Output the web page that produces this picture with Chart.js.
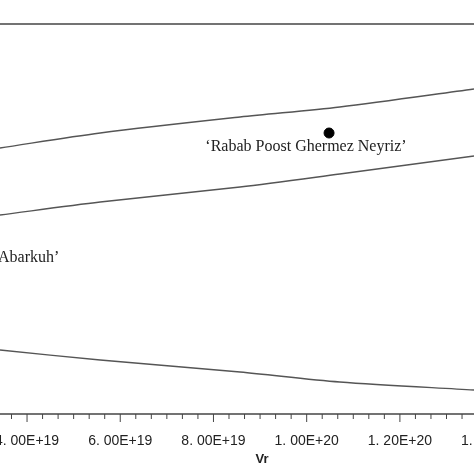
<!DOCTYPE html>
<html><head><meta charset="utf-8">
<script src="https://cdn.jsdelivr.net/npm/chart.js@4"></script>
<style>html,body{margin:0;padding:0;background:#fff}#w{width:474px;height:474px}</style>
</head><body><div id="w"><canvas id="c"></canvas></div>
<script>
const xVals = [3.42e19, 5.57e19, 8.57e19, 10.71e19, 13.59e19];
const upperCurve = [266, 281, 297, 307, 325];
const lowerCurve = [199, 212, 227, 240, 258];
const bottomCurve = [64, 54, 42, 32, 24];
const pointX = [10.48e19];
const pointY = [281];
const tickValues = [4e19, 6e19, 8e19, 1e20, 1.2e20, 1.4e20];
const tickLabels = ['4. 00E+19', '6. 00E+19', '8. 00E+19', '1. 00E+20', '1. 20E+20', '1. 40E+20'];
const pts = ys => xVals.map((x,i)=>({x, y: ys[i]}));
const lineDs = ys => ({data: pts(ys), showLine: true, borderColor:'#555', borderWidth:1.4, pointRadius:0, tension:0.3, clip:false});
const deco = {
  id:'deco',
  afterDraw(ch){
    const c=ch.ctx, xs=ch.scales.x, a=ch.chartArea;
    c.save();
    c.strokeStyle='#444'; c.lineWidth=1.5;
    c.beginPath(); c.moveTo(0,a.top); c.lineTo(474,a.top); c.stroke();
    c.beginPath(); c.moveTo(0,a.bottom); c.lineTo(474,a.bottom); c.stroke();
    c.lineWidth=1;
    for(let v=2e19; v<=1.6e20; v+=2e19/6){
      const p=xs.getPixelForValue(v); if(p<0||p>474) continue;
      const major=Math.abs((v/2e19)-Math.round(v/2e19))<1e-6;
      c.beginPath(); c.moveTo(p,a.bottom); c.lineTo(p,a.bottom+(major?8:5)); c.stroke();
    }
    c.fillStyle='#222'; c.font='14px "Liberation Sans", Arial'; c.textAlign='center'; c.textBaseline='middle';
    tickValues.forEach((v,i)=>c.fillText(tickLabels[i], xs.getPixelForValue(v), a.bottom+27));
    c.font='bold 13px "Liberation Sans", Arial';
    c.fillText('Vr', 262, 459);
    c.font='16px "Liberation Serif", "Times New Roman", serif';
    c.fillText('‘Rabab Poost Ghermez Neyriz’', 306, 147);
    c.textAlign='left';
    c.fillText('Abarkuh’', -2, 258);
    c.restore();
  }
};
new Chart(document.getElementById('c'), {
  type:'scatter',
  data:{datasets:[lineDs(upperCurve), lineDs(lowerCurve), lineDs(bottomCurve),
    {data: pointX.map((x,i)=>({x,y:pointY[i]})), pointRadius:5, pointBackgroundColor:'#000', borderColor:'#000', pointStyle:'circle'}]},
  options:{responsive:true, maintainAspectRatio:false, animation:false,
    layout:{padding:{top:24,bottom:60,left:0,right:0}, autoPadding:false},
    plugins:{legend:{display:false}, tooltip:{enabled:false}},
    scales:{
      x:{type:'linear', min:3.42e19, max:13.59e19, display:false},
      y:{min:0, max:390, display:false}
    }},
  plugins:[deco]
});
</script></body></html>
